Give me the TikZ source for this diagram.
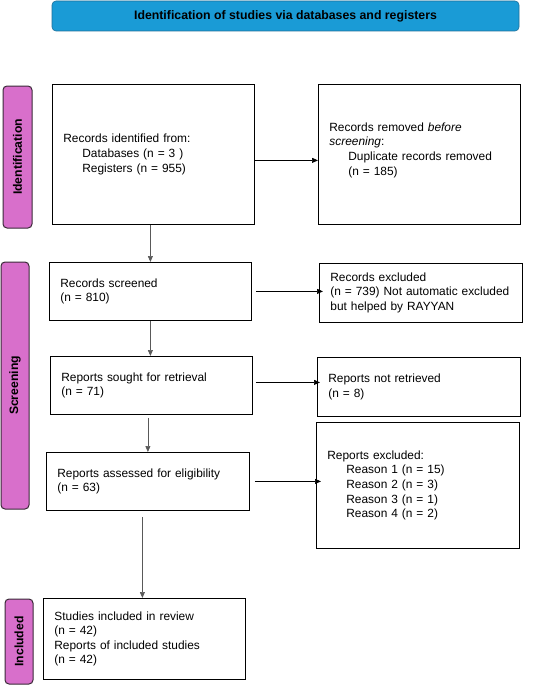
\documentclass[tikz,border=0pt]{standalone}
\usepackage{fontspec}
\setmainfont{Liberation Sans}
\usetikzlibrary{arrows.meta}
\definecolor{titleblue}{HTML}{1A9BD6}
\definecolor{titleedge}{HTML}{1F6F99}
\definecolor{sidepink}{HTML}{D86FCB}
\definecolor{sideedge}{HTML}{3A2A38}
\tikzset{
  box/.style={draw, line width=0.8pt, align=left, inner xsep=11pt, inner ysep=0pt,
    anchor=north west, font=\fontsize{11.9}{14.6}\selectfont},
  side/.style={draw=sideedge, fill=sidepink, line width=1pt, rounded corners=4pt,
    rotate=90, font=\fontsize{12.2}{13}\selectfont\bfseries, inner sep=0pt},
  arr/.style={line width=0.7pt, -{Triangle[length=6pt,width=5pt]}},
  varr/.style={arr, draw=black!65},
}
\newcommand{\ind}{\hspace*{19pt}}
\begin{document}
\begin{tikzpicture}[x=1pt,y=-1pt]
\useasboundingbox (0,0) rectangle (546,685);
% title
\node[draw=titleedge, fill=titleblue, rounded corners=4pt, line width=0.6pt,
  minimum width=467pt, minimum height=30pt, inner sep=0pt,
  font=\fontsize{12.3}{13}\selectfont\bfseries] (title) at (285.5,16)
  {Identification of studies via databases and registers};
% side labels
\node[side, minimum width=142pt, minimum height=29pt] (sidA) at (17.5,157) {Identification};
\node[side, minimum width=247pt, minimum height=28pt] (sidB) at (15,385.5) {Screening};
\node[side, minimum width=85pt, minimum height=28pt] (sidC) at (19,641.5) {Included};
% boxes
\node[box, text width=180pt, minimum height=140pt] (b1) at (52,84)
  {Records identified from:\\ \ind Databases (n = 3 )\\ \ind Registers (n = 955)};
\node[box, text width=180pt, minimum height=140pt] (b2) at (318,84)
  {\\[-4pt]Records removed \textit{before}\\ \textit{screening}:\\ \ind Duplicate records removed\\ \ind(n = 185)\\[-6pt]\strut};
\node[box, text width=180pt, minimum height=58pt] (scr) at (49,262)
  {Records screened\\ (n = 810)};
\node[box, text width=181pt, minimum height=59pt] (exc) at (319,263)
  {Records excluded\\ (n = 739) Not automatic excluded\\ but helped by RAYYAN};
\node[box, text width=180pt, minimum height=58pt] (sou) at (50,356)
  {Reports sought for retrieval\\ (n = 71)};
\node[box, text width=181pt, minimum height=59pt] (nre) at (317,357)
  {Reports not retrieved\\ (n = 8)};
\node[box, text width=181pt, minimum height=58pt] (ass) at (46,452)
  {Reports assessed for eligibility\\ (n = 63)};
\node[box, text width=181pt, minimum height=126pt] (rex) at (316,422)
  {Reports excluded:\\ \ind Reason 1 (n = 15)\\ \ind Reason 2 (n = 3)\\ \ind Reason 3 (n = 1)\\ \ind Reason 4 (n = 2)};
\node[box, text width=180pt, minimum height=81pt] (inc) at (43,598)
  {Studies included in review\\ (n = 42)\\ Reports of included studies\\ (n = 42)};
% connectors
\draw[arr] ([yshift=-6pt]b1.east) -- ([yshift=-6pt]b1.east -| b2.west);
\draw[varr] (scr.north |- b1.south) -- (scr.north);
\draw[arr] ([xshift=4pt]scr.east) -- ([xshift=4pt]scr.east -| exc.west);
\draw[varr] (scr.south) -- (scr.south |- sou.north);
\draw[arr] ([xshift=3pt,yshift=3pt]sou.east) -- ([xshift=3pt,yshift=3pt]sou.east -| nre.west);
\draw[varr] ([yshift=-3pt]ass.north |- sou.south) -- (ass.north);
\draw[arr] ([xshift=5pt]ass.east) -- ([xshift=5pt]ass.east -| rex.west);
\draw[varr] ([xshift=-2pt,yshift=-6pt]inc.north |- ass.south) -- ([xshift=-2pt]inc.north);
\end{tikzpicture}
\end{document}
